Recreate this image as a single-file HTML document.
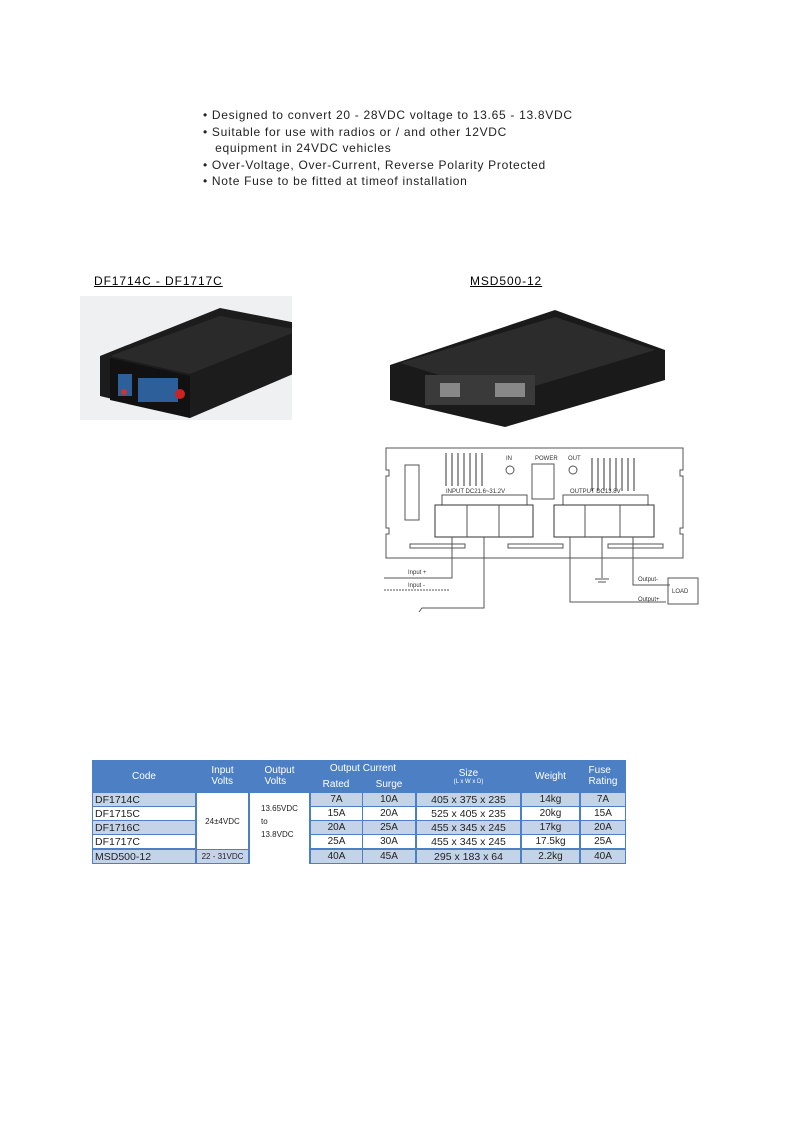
<!DOCTYPE html>
<html><head><style>
body{margin:0;width:793px;height:1122px;background:#fff;position:relative;font-family:"Liberation Sans",sans-serif;overflow:hidden}
.a{position:absolute}
.b{font-size:12px;letter-spacing:0.7px;color:#222;line-height:16.5px;left:203px;top:107px}
.cell{position:absolute;display:flex;align-items:center;justify-content:center;font-size:10px;color:#222;box-sizing:border-box}
</style></head><body>
<div class="a b">• Designed to convert 20 - 28VDC voltage to 13.65 - 13.8VDC<br>• Suitable for use with radios or / and other 12VDC<br>&nbsp;&nbsp;&nbsp;equipment in 24VDC vehicles<br>• Over-Voltage, Over-Current, Reverse Polarity Protected<br>• Note Fuse to be fitted at timeof installation</div>
<div class="a" style="left:94px;top:274px;font-size:12px;letter-spacing:0.9px;text-decoration:underline">DF1714C - DF1717C</div>
<div class="a" style="left:470px;top:274px;font-size:12px;letter-spacing:0.9px;text-decoration:underline">MSD500-12</div>
<div class="a" style="left:80px;top:296px;width:212px;height:124px;background:#eef0f2"></div>
<svg class="a" style="left:80px;top:296px" width="212" height="124">
<polygon points="20,60 140,12 232,30 232,70 110,122 20,100" fill="#1c1c1c"/>
<polygon points="30,60 140,20 220,34 110,78" fill="#2a2a2a"/>
<polygon points="30,62 110,80 110,122 30,104" fill="#111"/>
<rect x="38" y="78" width="14" height="22" fill="#2d5f9a"/><rect x="58" y="82" width="40" height="24" fill="#2d5f9a"/>
<circle cx="44" cy="96" r="3" fill="#c33"/><circle cx="100" cy="98" r="5" fill="#c22"/>
</svg>
<svg class="a" style="left:385px;top:305px" width="290" height="122">
<polygon points="5,60 170,5 280,45 280,75 120,122 5,95" fill="#1a1a1a"/>
<polygon points="15,58 170,12 270,45 120,90" fill="#2c2c2c"/>
<rect x="40" y="70" width="110" height="30" fill="#3a3a3a"/>
<rect x="55" y="78" width="20" height="14" fill="#888"/><rect x="110" y="78" width="30" height="14" fill="#888"/>
</svg>
<svg class="a" style="left:380px;top:440px" width="320" height="185" fill="none" stroke="#555" stroke-width="1">
<path d="M6,8 H303 V30 h-3 v6 h3 V88 h-3 v6 h3 V118 H6 V94 h3 v-6 h-3 V36 h3 v-6 h-3 Z"/>
<rect x="25" y="25" width="14" height="55"/>
<g stroke="#333"><path d="M66,13v33M72,13v33M78,13v33M84,13v33M90,13v33M96,13v33M102,13v33M212,18v33M218,18v33M224,18v33M230,18v33M236,18v33M242,18v33M248,18v33M254,18v33"/></g>
<rect x="152" y="24" width="22" height="35"/><circle cx="130" cy="30" r="4"/><circle cx="193" cy="30" r="4"/>
<rect x="62" y="55" width="85" height="10"/><rect x="183" y="55" width="85" height="10"/>
<rect x="55" y="65" width="98" height="32" stroke="#333"/><rect x="174" y="65" width="100" height="32" stroke="#333"/>
<path d="M87,65v32M119,65v32M205,65v32M240,65v32"/>
<rect x="30" y="104" width="55" height="4"/><rect x="128" y="104" width="55" height="4"/><rect x="228" y="104" width="55" height="4"/>
<path d="M72,97V138H4M104,97V168H42l-3,4M190,97V162H286M222,97V138M215,139h14M218,142h8M253,97V145H290"/>
<path d="M4,150H70" stroke-dasharray="2,1"/>
<rect x="288" y="138" width="30" height="26"/>
<g fill="#333" stroke="none" font-size="6" font-family="Liberation Sans"><text x="28" y="134">Input +</text><text x="28" y="147">Input -</text><text x="258" y="141">Output-</text><text x="258" y="161">Output+</text><text x="292" y="153">LOAD</text><text x="155" y="20">POWER</text><text x="126" y="20">IN</text><text x="188" y="20">OUT</text><text x="66" y="53">INPUT DC21.6~31.2V</text><text x="190" y="53">OUTPUT DC13.8V</text></g>
</svg>
<div class="a" style="left:92px;top:760px;width:534px;height:104px;background:#4d7fc4"></div>
<div class="cell" style="left:92px;top:760px;width:104px;height:32px;color:#fff">Code</div>
<div class="cell" style="left:196px;top:760px;width:53px;height:32px;color:#fff;flex-direction:column">Input<br>Volts</div>
<div class="cell" style="left:249px;top:760px;width:61px;height:32px;color:#fff;flex-direction:column">Output<br>Volts</div>
<div class="cell" style="left:310px;top:760px;width:106px;height:16px;color:#fff">Output Current</div>
<div class="cell" style="left:310px;top:776px;width:52px;height:16px;color:#fff">Rated</div>
<div class="cell" style="left:362px;top:776px;width:54px;height:16px;color:#fff">Surge</div>
<div class="cell" style="left:416px;top:760px;width:105px;height:32px;color:#fff;flex-direction:column">Size<span style="font-size:6px">(L x W x D)</span></div>
<div class="cell" style="left:521px;top:760px;width:59px;height:32px;color:#fff">Weight</div>
<div class="cell" style="left:580px;top:760px;width:46px;height:32px;color:#fff;flex-direction:column">Fuse<br>Rating</div>
<div id="rows"></div>
<script>
var r=[["DF1714C","7A","10A","405 x 375 x 235","14kg","7A","#c5d3e8"],["DF1715C","15A","20A","525 x 405 x 235","20kg","15A","#fff"],["DF1716C","20A","25A","455 x 345 x 245","17kg","20A","#c5d3e8"],["DF1717C","25A","30A","455 x 345 x 245","17.5kg","25A","#fff"],["MSD500-12","40A","45A","295 x 183 x 64","2.2kg","40A","#c5d3e8"]];
var ys=[793,807,821,835,850],h=[13,13,13,13,13],xs=[[93,102],[311,51],[363,52],[417,103],[522,57],[581,44]],s="";
r.forEach(function(v,i){xs.forEach(function(c,j){s+='<div class="cell" style="left:'+c[0]+'px;top:'+ys[i]+'px;width:'+c[1]+'px;height:'+h[i]+'px;background:'+v[6]+';'+(j==0?'justify-content:flex-start;padding-left:2px;font-size:10.5px':'')+(j==3?';font-size:10.5px':'')+'">'+v[j]+'</div>'})});
s+='<div class="cell" style="left:197px;top:793px;width:51px;height:56px;background:#fff;font-size:8px">24±4VDC</div>';
s+='<div class="cell" style="left:197px;top:850px;width:51px;height:13px;background:#c5d3e8;font-size:8px">22 - 31VDC</div>';
s+='<div class="cell" style="left:250px;top:793px;width:59px;height:71px;background:#fff;font-size:8px;line-height:13px;flex-direction:column;padding-bottom:14px">13.65VDC<br>to<br>13.8VDC</div>';
document.getElementById("rows").innerHTML=s;
</script>
</body></html>
